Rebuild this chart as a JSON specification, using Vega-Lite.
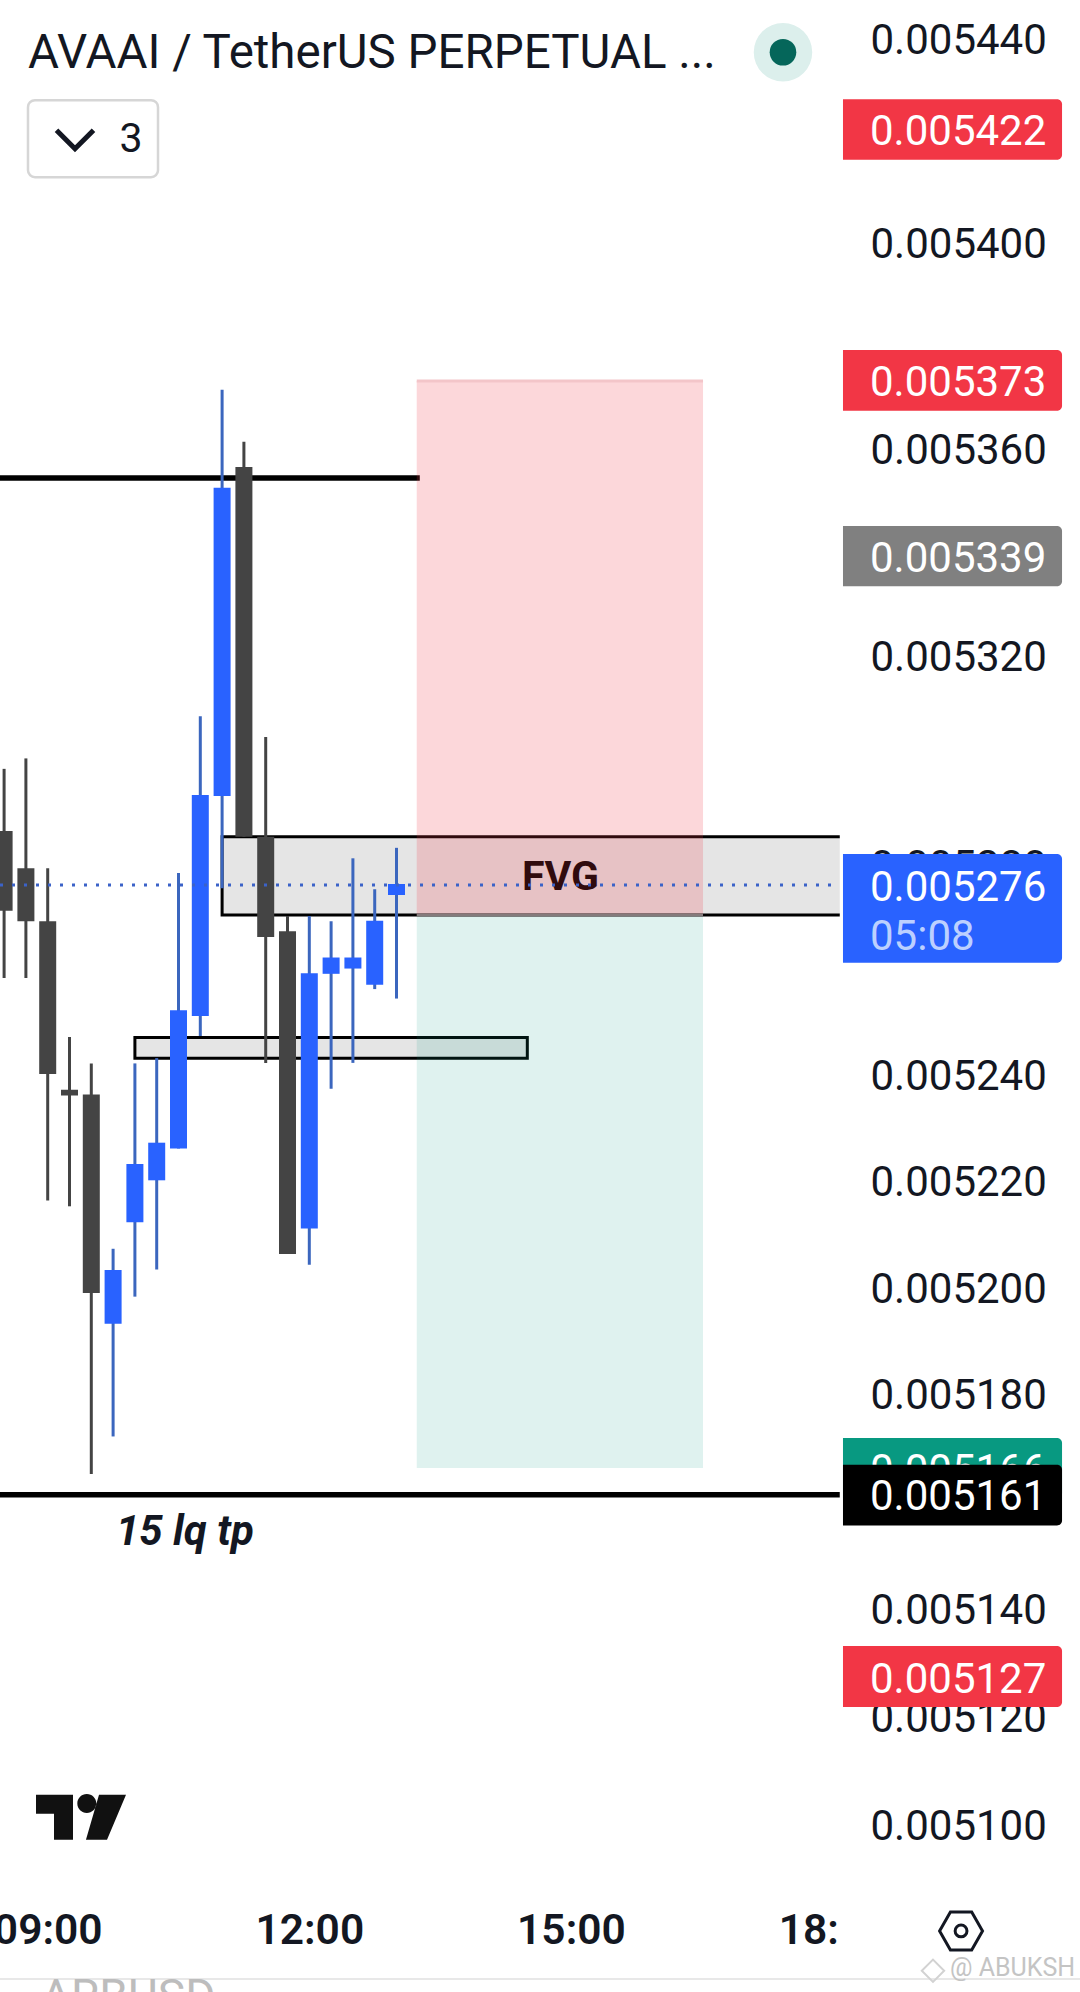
{
  "$schema": "https://vega.github.io/schema/vega-lite/v6.json",
  "width": 1080,
  "height": 1992,
  "padding": 0,
  "autosize": {"type": "none"},
  "background": "white",
  "view": {"stroke": null},
  "datasets": {
    "candles": [
      {"hour": 8.5, "open": 0.0052863, "high": 0.0052982, "low": 0.0052583, "close": 0.0052711, "dir": "down"},
      {"hour": 8.75, "open": 0.0052792, "high": 0.0053002, "low": 0.0052583, "close": 0.0052691, "dir": "down"},
      {"hour": 9, "open": 0.0052691, "high": 0.0052792, "low": 0.0052162, "close": 0.0052401, "dir": "down"},
      {"hour": 9.25, "open": 0.0052371, "high": 0.0052471, "low": 0.0052151, "close": 0.005236, "dir": "down"},
      {"hour": 9.5, "open": 0.0052362, "high": 0.0052421, "low": 0.0051649, "close": 0.0051988, "dir": "down"},
      {"hour": 9.75, "open": 0.005193, "high": 0.0052071, "low": 0.0051719, "close": 0.0052031, "dir": "up"},
      {"hour": 10, "open": 0.0052121, "high": 0.0052421, "low": 0.0051981, "close": 0.0052231, "dir": "up"},
      {"hour": 10.25, "open": 0.00522, "high": 0.0052431, "low": 0.0052032, "close": 0.0052271, "dir": "up"},
      {"hour": 10.5, "open": 0.005226, "high": 0.0052783, "low": 0.005226, "close": 0.0052522, "dir": "up"},
      {"hour": 10.75, "open": 0.0052511, "high": 0.0053083, "low": 0.0052473, "close": 0.0052932, "dir": "up"},
      {"hour": 11, "open": 0.005293, "high": 0.0053713, "low": 0.0052754, "close": 0.0053523, "dir": "up"},
      {"hour": 11.25, "open": 0.0053563, "high": 0.0053612, "low": 0.0052852, "close": 0.0052852, "dir": "down"},
      {"hour": 11.5, "open": 0.0052852, "high": 0.0053043, "low": 0.0052422, "close": 0.0052661, "dir": "down"},
      {"hour": 11.75, "open": 0.0052672, "high": 0.0052701, "low": 0.0052061, "close": 0.0052061, "dir": "down"},
      {"hour": 12, "open": 0.0052109, "high": 0.0052701, "low": 0.0052041, "close": 0.0052592, "dir": "up"},
      {"hour": 12.25, "open": 0.0052591, "high": 0.0052691, "low": 0.0052373, "close": 0.0052622, "dir": "up"},
      {"hour": 12.5, "open": 0.0052601, "high": 0.0052811, "low": 0.0052422, "close": 0.0052622, "dir": "up"},
      {"hour": 12.75, "open": 0.005257, "high": 0.0052752, "low": 0.0052562, "close": 0.0052692, "dir": "up"},
      {"hour": 13, "open": 0.0052741, "high": 0.0052831, "low": 0.0052544, "close": 0.0052762, "dir": "up"}
    ],
    "fvgEdge": [
      {"hour": 18.083, "price": 0.0052852, "seq": 1},
      {"hour": 11, "price": 0.0052852, "seq": 2},
      {"hour": 11, "price": 0.0052703, "seq": 3},
      {"hour": 18.083, "price": 0.0052703, "seq": 4}
    ],
    "tags": [
      {"start": 18.12, "end": 20.632, "labelHour": 18.43, "price": 0.005422, "top": 0.005428, "bottom": 0.0054161, "kind": "alert"},
      {"start": 18.12, "end": 20.632, "labelHour": 18.43, "price": 0.005373, "top": 0.005379, "bottom": 0.0053672, "kind": "alert"},
      {"start": 18.12, "end": 20.632, "labelHour": 18.43, "price": 0.005339, "top": 0.0053449, "bottom": 0.0053333, "kind": "prev"},
      {"start": 18.12, "end": 20.632, "labelHour": 18.43, "price": 0.005276, "top": 0.0052819, "bottom": 0.0052612, "kind": "up"},
      {"start": 18.12, "end": 20.632, "labelHour": 18.43, "price": 0.005166, "top": 0.0051716, "bottom": 0.0051604, "kind": "target"},
      {"start": 18.12, "end": 20.632, "labelHour": 18.43, "price": 0.005127, "top": 0.0051329, "bottom": 0.0051216, "kind": "alert"}
    ],
    "lineTag": [
      {"start": 18.12, "end": 20.632, "labelHour": 18.43, "price": 0.005161, "top": 0.0051666, "bottom": 0.0051553, "kind": "line"}
    ]
  },
  "layer": [
    {
      "data": {"values": [
        {"start": 11, "end": 18.083, "top": 0.0052852, "bottom": 0.0052703},
        {"start": 10, "end": 14.5, "top": 0.005247, "bottom": 0.0052431}
      ]},
      "mark": {"type": "rect", "color": "#E5E5E5"},
      "encoding": {
        "x": {
          "field": "start", "type": "quantitative", "title": null,
          "scale": {"domain": [8.453, 20.838], "nice": false, "zero": false, "padding": 0},
          "axis": {
            "orient": "bottom", "offset": -62, "values": [9, 12, 15, 18], "labelExpr": "format(datum.value, '02d') + ':00'",
            "domain": false, "ticks": false, "tickSize": 0, "grid": false, "labelPadding": 0,
            "labelBaseline": "middle", "labelFont": "Roboto", "labelFontSize": 42.5, "labelFontWeight": 600,
            "labelColor": "#131722", "labelBound": false, "labelFlush": false, "labelOverlap": false
          }
        },
        "x2": {"field": "end"},
        "y": {
          "field": "top", "type": "quantitative", "title": null,
          "scale": {"type": "log", "domain": [0.0050691, 0.00544748], "nice": false, "zero": false, "padding": 0},
          "axis": {
            "orient": "right", "offset": -210,
            "values": [0.00544, 0.0054, 0.00536, 0.00532, 0.00528, 0.00524, 0.00522, 0.0052, 0.00518, 0.00514, 0.00512, 0.0051],
            "format": ".6f", "domain": false, "ticks": false, "tickSize": 0, "grid": false, "labelPadding": 0,
            "labelAlign": "left", "labelBaseline": "middle", "labelOffset": 2.5, "labelFont": "Roboto", "labelFontSize": 42,
            "labelColor": "#131722", "labelBound": false, "labelFlush": false, "labelOverlap": false
          }
        },
        "y2": {"field": "bottom"}
      }
    },
    {
      "data": {"name": "fvgEdge"},
      "mark": {"type": "line", "color": "black", "strokeWidth": 3},
      "encoding": {
        "x": {"field": "hour", "type": "quantitative"},
        "y": {"field": "price", "type": "quantitative"},
        "order": {"field": "seq", "type": "ordinal"}
      }
    },
    {
      "data": {"values": [{"start": 10, "end": 14.5, "top": 0.005247, "bottom": 0.0052431}]},
      "mark": {"type": "rect", "fillOpacity": 0, "stroke": "black", "strokeWidth": 3},
      "encoding": {
        "x": {"field": "start", "type": "quantitative"},
        "x2": {"field": "end"},
        "y": {"field": "top", "type": "quantitative"},
        "y2": {"field": "bottom"}
      }
    },
    {
      "data": {"values": [
        {"start": 8.453, "end": 13.267, "price": 0.0053542},
        {"start": 8.453, "end": 18.083, "price": 0.005161}
      ]},
      "mark": {"type": "rule", "color": "black", "strokeWidth": 5.5},
      "encoding": {
        "x": {"field": "start", "type": "quantitative"},
        "x2": {"field": "end"},
        "y": {"field": "price", "type": "quantitative"}
      }
    },
    {
      "data": {"name": "candles"},
      "mark": {"type": "rule", "strokeWidth": 3},
      "encoding": {
        "x": {"field": "hour", "type": "quantitative"},
        "y": {"field": "high", "type": "quantitative"},
        "y2": {"field": "low"},
        "stroke": {"field": "dir", "type": "nominal", "legend": null, "scale": {"domain": ["up", "down"], "range": ["#3B66BE", "#444444"]}}
      }
    },
    {
      "data": {"name": "candles"},
      "mark": {"type": "bar", "size": 17},
      "encoding": {
        "x": {"field": "hour", "type": "quantitative"},
        "y": {"field": "open", "type": "quantitative"},
        "y2": {"field": "close"},
        "fill": {"field": "dir", "type": "nominal", "legend": null, "scale": {"domain": ["up", "down", "alert", "prev", "target", "line"], "range": ["#2962FF", "#444444", "#F23645", "#808080", "#089981", "#000000"]}}
      }
    },
    {
      "data": {"values": [{"hour": 14.88, "price": 0.0052779, "label": "FVG"}]},
      "mark": {"type": "text", "font": "Roboto", "fontSize": 41, "fontWeight": 700, "color": "black", "align": "center", "baseline": "middle", "dy": 2.5},
      "encoding": {
        "x": {"field": "hour", "type": "quantitative"},
        "y": {"field": "price", "type": "quantitative"},
        "text": {"field": "label"}
      }
    },
    {
      "data": {"values": [
        {"start": 13.232, "end": 16.515, "top": 0.005373, "bottom": 0.0052703, "zone": "stop"},
        {"start": 13.232, "end": 16.515, "top": 0.0052703, "bottom": 0.005166, "zone": "profit"}
      ]},
      "mark": {"type": "rect"},
      "encoding": {
        "x": {"field": "start", "type": "quantitative"},
        "x2": {"field": "end"},
        "y": {"field": "top", "type": "quantitative"},
        "y2": {"field": "bottom"},
        "color": {"field": "zone", "type": "nominal", "legend": null, "scale": {"domain": ["stop", "profit"], "range": ["#F23645", "#089981"]}},
        "opacity": {"field": "zone", "type": "nominal", "legend": null, "scale": {"domain": ["stop", "profit"], "range": [0.2, 0.13]}}
      }
    },
    {
      "data": {"values": [{"start": 13.232, "end": 16.515, "price": 0.005373}]},
      "mark": {"type": "rule", "color": "#F3C5C9", "strokeWidth": 3},
      "encoding": {
        "x": {"field": "start", "type": "quantitative"},
        "x2": {"field": "end"},
        "y": {"field": "price", "type": "quantitative"}
      }
    },
    {
      "data": {"values": [{"start": 13.232, "end": 16.515, "price": 0.0052703}]},
      "mark": {"type": "rule", "color": "#857B7C", "strokeWidth": 3},
      "encoding": {
        "x": {"field": "start", "type": "quantitative"},
        "x2": {"field": "end"},
        "y": {"field": "price", "type": "quantitative"}
      }
    },
    {
      "data": {"values": [{"start": 8.453, "end": 18.083, "price": 0.005276}]},
      "mark": {"type": "rule", "color": "#3B62C8", "strokeWidth": 3, "strokeDash": [3, 9]},
      "encoding": {
        "x": {"field": "start", "type": "quantitative"},
        "x2": {"field": "end"},
        "y": {"field": "price", "type": "quantitative"}
      }
    },
    {
      "data": {"values": [{"start": 18.063, "end": 20.838, "top": 0.0050878, "bottom": 0.0050741}]},
      "mark": {"type": "rect", "color": "white"},
      "encoding": {
        "x": {"field": "start", "type": "quantitative"},
        "x2": {"field": "end"},
        "y": {"field": "top", "type": "quantitative"},
        "y2": {"field": "bottom"}
      }
    },
    {
      "data": {"name": "tags"},
      "mark": {"type": "rect", "cornerRadiusTopRight": 5, "cornerRadiusBottomRight": 5},
      "encoding": {
        "x": {"field": "start", "type": "quantitative"},
        "x2": {"field": "end"},
        "y": {"field": "top", "type": "quantitative"},
        "y2": {"field": "bottom"},
        "fill": {"field": "kind", "type": "nominal", "legend": null, "scale": {"domain": ["up", "down", "alert", "prev", "target", "line"], "range": ["#2962FF", "#444444", "#F23645", "#808080", "#089981", "#000000"]}}
      }
    },
    {
      "data": {"name": "tags"},
      "mark": {"type": "text", "font": "Roboto", "fontSize": 42, "color": "white", "align": "left", "baseline": "middle", "dy": 2.5},
      "encoding": {
        "x": {"field": "labelHour", "type": "quantitative"},
        "y": {"field": "price", "type": "quantitative"},
        "text": {"field": "price", "type": "quantitative", "format": ".6f"}
      }
    },
    {
      "data": {"name": "lineTag"},
      "mark": {"type": "rect", "cornerRadiusTopRight": 5, "cornerRadiusBottomRight": 5},
      "encoding": {
        "x": {"field": "start", "type": "quantitative"},
        "x2": {"field": "end"},
        "y": {"field": "top", "type": "quantitative"},
        "y2": {"field": "bottom"},
        "fill": {"field": "kind", "type": "nominal", "legend": null, "scale": {"domain": ["up", "down", "alert", "prev", "target", "line"], "range": ["#2962FF", "#444444", "#F23645", "#808080", "#089981", "#000000"]}}
      }
    },
    {
      "data": {"name": "lineTag"},
      "mark": {"type": "text", "font": "Roboto", "fontSize": 42, "color": "white", "align": "left", "baseline": "middle", "dy": 2.5},
      "encoding": {
        "x": {"field": "labelHour", "type": "quantitative"},
        "y": {"field": "price", "type": "quantitative"},
        "text": {"field": "price", "type": "quantitative", "format": ".6f"}
      }
    },
    {
      "data": {"values": [{"hour": 18.43, "price": 0.0052665, "label": "05:08"}]},
      "mark": {"type": "text", "font": "Roboto", "fontSize": 42, "color": "#BCD0FF", "align": "left", "baseline": "middle", "dy": 2.5},
      "encoding": {
        "x": {"field": "hour", "type": "quantitative"},
        "y": {"field": "price", "type": "quantitative"},
        "text": {"field": "label"}
      }
    },
    {
      "data": {"values": [{"hour": 9.783, "price": 0.0051545, "label": "15 lq tp"}]},
      "mark": {"type": "text", "font": "Roboto", "fontSize": 42, "fontWeight": 700, "fontStyle": "italic", "color": "#131722", "align": "left", "baseline": "middle", "dy": 2.5},
      "encoding": {
        "x": {"field": "hour", "type": "quantitative"},
        "y": {"field": "price", "type": "quantitative"},
        "text": {"field": "label"}
      }
    },
    {
      "data": {"values": [{"hour": 8.774, "price": 0.0054372, "label": "AVAAI / TetherUS PERPETUAL ..."}]},
      "mark": {"type": "text", "font": "Roboto", "fontSize": 47.5, "color": "#131722", "align": "left", "baseline": "middle", "dy": 1.5},
      "encoding": {
        "x": {"field": "hour", "type": "quantitative"},
        "y": {"field": "price", "type": "quantitative"},
        "text": {"field": "label"}
      }
    },
    {
      "data": {"values": [{"start": 8.774, "end": 10.265, "top": 0.0054278, "bottom": 0.0054127}]},
      "mark": {"type": "rect", "fill": "white", "stroke": "#D6D6D6", "strokeWidth": 2.5, "cornerRadius": 7},
      "encoding": {
        "x": {"field": "start", "type": "quantitative"},
        "x2": {"field": "end"},
        "y": {"field": "top", "type": "quantitative"},
        "y2": {"field": "bottom"}
      }
    },
    {
      "data": {"values": [{"hour": 9.313, "price": 0.0054201}]},
      "mark": {"type": "point", "shape": "M-1,-.5 L0,.5 L1,-.5", "size": 1369, "filled": false, "stroke": "#131722", "strokeWidth": 5, "opacity": 1},
      "encoding": {
        "x": {"field": "hour", "type": "quantitative"},
        "y": {"field": "price", "type": "quantitative"}
      }
    },
    {
      "data": {"values": [{"hour": 9.955, "price": 0.0054205, "label": "3"}]},
      "mark": {"type": "text", "font": "Roboto", "fontSize": 41, "color": "#131722", "align": "center", "baseline": "middle", "dy": 2.5},
      "encoding": {
        "x": {"field": "hour", "type": "quantitative"},
        "y": {"field": "price", "type": "quantitative"},
        "text": {"field": "label"}
      }
    },
    {
      "data": {"values": [{"hour": 17.432, "price": 0.0054372}]},
      "mark": {"type": "point", "shape": "circle", "size": 3421, "filled": true, "color": "#DCEFEC", "opacity": 1},
      "encoding": {
        "x": {"field": "hour", "type": "quantitative"},
        "y": {"field": "price", "type": "quantitative"}
      }
    },
    {
      "data": {"values": [{"hour": 17.432, "price": 0.0054372}]},
      "mark": {"type": "point", "shape": "circle", "size": 707, "filled": true, "color": "#05665A", "opacity": 1},
      "encoding": {
        "x": {"field": "hour", "type": "quantitative"},
        "y": {"field": "price", "type": "quantitative"}
      }
    },
    {
      "data": {"values": [{"hour": 9.382, "price": 0.0051012}]},
      "mark": {"type": "point", "shape": "M-1,-.5 L-.178,-.5 L-.178,.5 L-.6,.5 L-.6,-.078 L-1,-.078 Z M-.082,-.307 A.211,.211 0 1 0 .34,-.307 A.211,.211 0 1 0 -.082,-.307 Z M.4,-.5 L1,-.5 L.578,.5 L.11,.5 Z", "size": 8100, "filled": true, "color": "#111111", "opacity": 1},
      "encoding": {
        "x": {"field": "hour", "type": "quantitative"},
        "y": {"field": "price", "type": "quantitative"}
      }
    },
    {
      "data": {"values": [{"hour": 19.474, "price": 0.0050803}]},
      "mark": {"type": "point", "shape": "M-1.13,0 L-.56,-1 L.56,-1 L1.13,0 L.56,1 L-.56,1 Z", "size": 1444, "filled": false, "stroke": "#131722", "strokeWidth": 3, "opacity": 1},
      "encoding": {
        "x": {"field": "hour", "type": "quantitative"},
        "y": {"field": "price", "type": "quantitative"}
      }
    },
    {
      "data": {"values": [{"hour": 19.474, "price": 0.0050803}]},
      "mark": {"type": "point", "shape": "circle", "size": 140, "filled": false, "stroke": "#131722", "strokeWidth": 3, "opacity": 1},
      "encoding": {
        "x": {"field": "hour", "type": "quantitative"},
        "y": {"field": "price", "type": "quantitative"}
      }
    },
    {
      "data": {"values": [{"start": 8.453, "end": 20.838, "price": 0.0050715}]},
      "mark": {"type": "rule", "color": "#E8E8E8", "strokeWidth": 2},
      "encoding": {
        "x": {"field": "start", "type": "quantitative"},
        "x2": {"field": "end"},
        "y": {"field": "price", "type": "quantitative"}
      }
    },
    {
      "data": {"values": [{"hour": 8.923, "price": 0.0050655, "label": "ARBUSD"}]},
      "mark": {"type": "text", "font": "Roboto", "fontSize": 46, "color": "#BDBDBD", "align": "left", "baseline": "alphabetic"},
      "encoding": {
        "x": {"field": "hour", "type": "quantitative"},
        "y": {"field": "price", "type": "quantitative"},
        "text": {"field": "label"}
      }
    },
    {
      "data": {"values": [{"hour": 19.347, "price": 0.0050735, "label": "@ ABUKSH"}]},
      "mark": {"type": "text", "font": "Roboto", "fontSize": 25, "color": "#C4C4C4", "align": "left", "baseline": "middle"},
      "encoding": {
        "x": {"field": "hour", "type": "quantitative"},
        "y": {"field": "price", "type": "quantitative"},
        "text": {"field": "label"}
      }
    },
    {
      "data": {"values": [{"hour": 19.152, "price": 0.005073}]},
      "mark": {"type": "point", "shape": "diamond", "size": 500, "filled": false, "stroke": "#D2D2D2", "strokeWidth": 2, "opacity": 1},
      "encoding": {
        "x": {"field": "hour", "type": "quantitative"},
        "y": {"field": "price", "type": "quantitative"}
      }
    }
  ]
}
